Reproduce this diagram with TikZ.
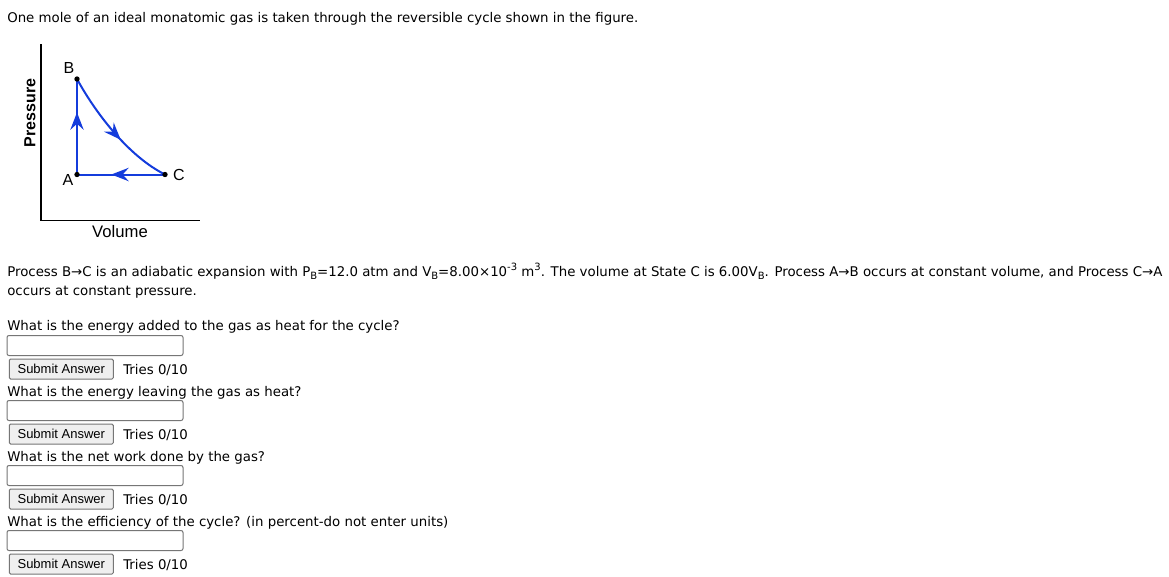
\documentclass[tikz,border=0pt]{standalone}
\usepackage{fontspec}
\setmainfont{DejaVu Sans}
\newfontfamily\arialfont{Liberation Sans}
\usetikzlibrary{arrows.meta,decorations.markings}
\definecolor{cycleblue}{RGB}{20,60,220}
\definecolor{btnfill}{RGB}{239,239,239}
\definecolor{btnedge}{RGB}{118,118,118}
\newcommand{\lowr}[1]{\raisebox{-0.45ex}{\fontsize{7.5}{9}\selectfont #1}}
\newcommand{\uppr}[1]{\raisebox{0.8ex}{\fontsize{7.5}{9}\selectfont #1}}
\tikzset{
	qtext/.style={anchor=west, inner sep=0pt, font=\fontsize{10}{12}\selectfont},
	figlabel/.style={inner sep=0pt, font=\arialfont\fontsize{12}{14}\selectfont},
	ansbox/.style={draw=btnedge, fill=white, line width=0.75pt, rounded corners=1.5pt},
	submitbtn/.style={draw=btnedge, fill=btnfill, line width=0.75pt, rounded corners=1pt,
		minimum width=78pt, minimum height=15pt, inner sep=0pt, font=\arialfont\fontsize{9.75}{12}\selectfont},
	cycleline/.style={draw=cycleblue, line width=1.5pt},
	midarrow/.style={postaction={decorate}, decoration={markings,
		mark=at position #1 with {\arrow[cycleblue]{Stealth[length=13pt, width=10pt, inset=4.5pt]}}}},
	statedot/.style={circle, fill=black, inner sep=0pt, minimum size=4pt}
}
\begin{document}
\begin{tikzpicture}[x=0.75pt, y=-0.75pt]
		%%%%% PAGE %%%%%
		\useasboundingbox (0, 0) rectangle (1169, 576);
		\clip (0, 0) rectangle (1169, 576);
		\fill[white] (0, 0) rectangle (1169, 576);
		
		\node[qtext] (intro) at (7, 18.5) {One mole of an ideal monatomic gas is taken through the reversible cycle shown in the figure.};
		
		%%%%% FIGURE %%%%%
		\draw[line width=0.9pt] (41, 44) -- (41, 220.5) -- (200, 220.5);
		\node[figlabel, rotate=90, font=\arialfont\bfseries\fontsize{12}{14}\selectfont] (plabel) at (30, 113) {Pressure};
		\node[figlabel, font=\arialfont\fontsize{12.5}{14}\selectfont] (vlabel) at (120, 232) {Volume};
		
		\coordinate (A) at (77, 174.5);
		\coordinate (B) at (77, 79);
		\coordinate (C) at (165, 174.5);
		
		\draw[cycleline, midarrow=0.65] (A) -- (B);
		\draw[cycleline, midarrow=0.57] (B) .. controls (95, 112) and (128, 156) .. (C);
		\draw[cycleline, midarrow=0.61] (C) -- (A);
		
		\node[statedot] (dA) at (A) {};
		\node[statedot] (dB) at (B) {};
		\node[statedot] (dC) at (C) {};
		\node[figlabel] (lA) at (68, 180) {A};
		\node[figlabel] (lB) at (69, 68) {B};
		\node[figlabel] (lC) at (179, 175) {C};
		
		%%%%% PROBLEM TEXT %%%%%
		\node[qtext] (proc) at (7, 271.5) {Process B→C is an adiabatic expansion with P\lowr{B}=12.0 atm and V\lowr{B}=8.00×10\uppr{-3} m\uppr{3}. The volume at State C is 6.00V\lowr{B}. Process A→B occurs at constant volume, and Process C→A};
		\node[qtext] (proc2) at (7, 292.5) {occurs at constant pressure.};
		
		%%%%% QUESTIONS %%%%%
		\node[qtext] (q1) at (7, 326.5) {What is the energy added to the gas as heat for the cycle?};
		\draw[ansbox] (7, 335.5) rectangle (183, 355.5);
		\node[submitbtn] (s1) at (61.3, 369) {Submit Answer};
		\node[qtext] (t1) at (123, 370) {Tries 0/10};
		
		\node[qtext] (q2) at (7, 392.5) {What is the energy leaving the gas as heat?};
		\draw[ansbox] (7, 400.5) rectangle (183, 420.5);
		\node[submitbtn] (s2) at (61.3, 434) {Submit Answer};
		\node[qtext] (t2) at (123, 435) {Tries 0/10};
		
		\node[qtext] (q3) at (7, 457.5) {What is the net work done by the gas?};
		\draw[ansbox] (7, 465.5) rectangle (183, 485.5);
		\node[submitbtn] (s3) at (61.3, 499) {Submit Answer};
		\node[qtext] (t3) at (123, 500) {Tries 0/10};
		
		\node[qtext] (q4) at (7, 522.5) {What is the efficiency of the cycle? (in percent-do not enter units)};
		\draw[ansbox] (7, 530.5) rectangle (183, 550.5);
		\node[submitbtn] (s4) at (61.3, 564) {Submit Answer};
		\node[qtext] (t4) at (123, 565) {Tries 0/10};
		
	\end{tikzpicture}
\end{document}
